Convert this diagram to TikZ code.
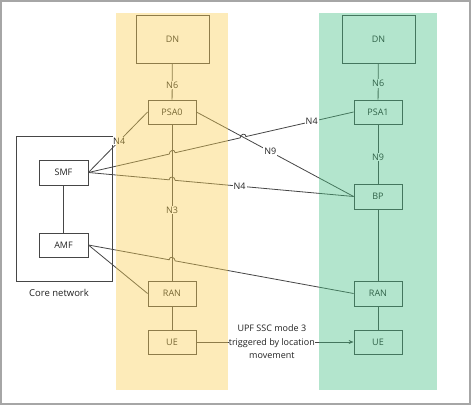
\documentclass[tikz,border=0pt]{standalone}
\usepackage{fontspec}
\setmainfont{Open Sans}
\usetikzlibrary{calc,arrows.meta}
\definecolor{lin}{HTML}{464646}
\definecolor{txt}{HTML}{222222}
\definecolor{bandY}{RGB}{250,207,80}
\definecolor{bandG}{RGB}{67,192,130}
\definecolor{framec}{HTML}{A6A6A6}
\begin{document}
\begin{tikzpicture}[x=1pt,y=-1pt,
  box/.style={draw=lin, fill=white, line width=0.8pt, inner sep=0pt, text=txt,
    font=\fontsize{9}{11}\selectfont, minimum width=48pt, minimum height=24pt},
  dnbox/.style={box, minimum width=73pt, minimum height=48pt},
  conn/.style={draw=lin, line width=0.8pt},
  lbl/.style={fill=white, inner sep=1pt, text=txt, font=\fontsize{9}{11}\selectfont},
  band/.style={fill opacity=0.4, draw=none}
]
\useasboundingbox (0,0) rectangle (474,406);
\fill[white] (0,0) rectangle (474,406);
\draw[framec, line width=2pt] (1,1) rectangle (470,404);

% core network frame
\node[draw=lin, line width=0.8pt, minimum width=96pt, minimum height=145pt, inner sep=0pt] (core) at (64,208.5) {};
\node[text=txt, font=\fontsize{9.5}{11}\selectfont] (corelbl) at (59,293) {Core network};

% nodes
\node[dnbox] (dn0) at (172.5,39) {DN};
\node[box] (psa0) at (172,112) {PSA0};
\node[box, minimum height=25pt] (ran0) at (172,293.5) {RAN};
\node[box] (ue0) at (172,342) {UE};
\node[dnbox] (dn1) at (378.5,39) {DN};
\node[box] (psa1) at (378,112) {PSA1};
\node[box, minimum height=25pt] (bp) at (378,196.5) {BP};
\node[box, minimum height=25pt] (ran1) at (378,293.5) {RAN};
\node[box] (ue1) at (378,342) {UE};
\node[box, minimum width=49pt, minimum height=25pt] (smf) at (63.5,172.5) {SMF};
\node[box, minimum width=49pt] (amf) at (63.5,245) {AMF};

% vertical connectors
\draw[conn] (dn0) -- node[lbl, pos=0.6]{N6} (psa0);
\draw[conn] (psa0) -- node[lbl, pos=0.548]{N3} (ran0);
\draw[conn] (ran0) -- (ue0);
\draw[conn] (dn1) -- node[lbl, pos=0.55]{N6} (psa1);
\draw[conn] (psa1) -- node[lbl, pos=0.55]{N9} (bp);
\draw[conn] (bp) -- (ran1);
\draw[conn] (ran1) -- (ue1);
\draw[conn] (smf) -- (amf);

% plain diagonals
\draw[conn] (smf.east) -- node[lbl, pos=0.52]{N4} (psa0.west);
\draw[conn] (psa0.east) -- (bp.west);
\draw[conn] (amf.east) -- (ran0.west);

% hop points
\path (smf.east) -- (psa1.west) coordinate[pos=0.3158] (ha1) coordinate[pos=0.583] (ha2);
\path (smf.east) -- (bp.west) coordinate[pos=0.3158] (hb1);
\path (amf.east) -- (ran1.west) coordinate[pos=0.3158] (hc1);

% SMF - PSA1 with two hops
\draw[conn] (smf.east) -- ($(ha1)!3pt!(smf.east)$)
  .. controls +(0,-4) and +(0,-4) .. ($(ha1)!3pt!(psa1.west)$)
  -- ($(ha2)!3pt!(smf.east)$)
  .. controls +(0,-4) and +(0,-4) .. ($(ha2)!3pt!(psa1.west)$)
  -- (psa1.west);
% SMF - BP with one hop
\draw[conn] (smf.east) -- ($(hb1)!3pt!(smf.east)$)
  .. controls +(0,-4) and +(0,-4) .. ($(hb1)!3pt!(bp.west)$)
  -- (bp.west);
% AMF - RAN1 with one hop
\draw[conn] (amf.east) -- ($(hc1)!3pt!(amf.east)$)
  .. controls +(0,-4) and +(0,-4) .. ($(hc1)!3pt!(ran1.west)$)
  -- (ran1.west);

% labels on diagonals
\path (smf.east) -- node[lbl, pos=0.842]{N4} (psa1.west);
\path (smf.east) -- node[lbl, pos=0.57]{N4} (bp.west);
\path (psa0.east) -- node[lbl, pos=0.47]{N9} (bp.west);

% UE move arrow
\draw[conn, -{Stealth[length=5pt,width=4pt]}] (ue0.east) --
  node[lbl, pos=0.48, inner sep=0pt, align=center, font=\fontsize{9}{13.5}\selectfont]
  {UPF SSC mode 3\\triggered by location\\movement} (ue1.west);

% translucent bands on top
\fill[bandY, band] (116,13) rectangle (228,390);
\fill[bandG, band] (319,13) rectangle (437,390);
\end{tikzpicture}
\end{document}
